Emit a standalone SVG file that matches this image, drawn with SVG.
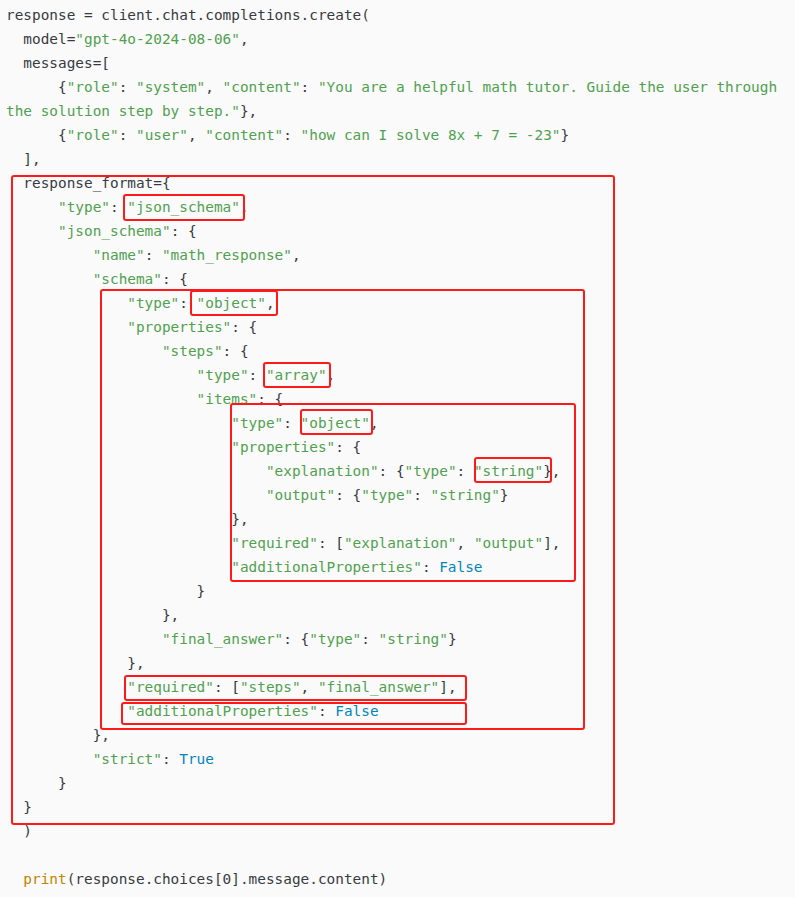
<svg xmlns="http://www.w3.org/2000/svg" width="795" height="897" viewBox="0 0 795 897">
<style>
text{font-family:"DejaVu Sans Mono","Liberation Mono",monospace;font-size:14.4px;fill:#383a42;white-space:pre}
.s{fill:#50a14f}.k{fill:#0184bc}.f{fill:#c18401}
.b{fill:none;stroke:#ff1a1a;stroke-width:2}
</style>
<rect width="795" height="897" fill="#fafafa"/>
<g id="code" xml:space="preserve">
<text x="6" y="20">response = client.chat.completions.create(</text>
<text x="6" y="44">  model=<tspan class="s">"gpt-4o-2024-08-06"</tspan>,</text>
<text x="6" y="68">  messages=[</text>
<text x="6" y="92">      {<tspan class="s">"role"</tspan>: <tspan class="s">"system"</tspan>, <tspan class="s">"content"</tspan>: <tspan class="s">"You are a helpful math tutor. Guide the user through</tspan></text>
<text x="6" y="116"><tspan class="s">the solution step by step."</tspan>},</text>
<text x="6" y="140">      {<tspan class="s">"role"</tspan>: <tspan class="s">"user"</tspan>, <tspan class="s">"content"</tspan>: <tspan class="s">"how can I solve 8x + 7 = -23"</tspan>}</text>
<text x="6" y="164">  ],</text>
<text x="6" y="188">  response_format={</text>
<text x="6" y="212">      <tspan class="s">"type"</tspan>: <tspan class="s">"json_schema"</tspan>,</text>
<text x="6" y="236">      <tspan class="s">"json_schema"</tspan>: {</text>
<text x="6" y="260">          <tspan class="s">"name"</tspan>: <tspan class="s">"math_response"</tspan>,</text>
<text x="6" y="284">          <tspan class="s">"schema"</tspan>: {</text>
<text x="6" y="308">              <tspan class="s">"type"</tspan>: <tspan class="s">"object"</tspan>,</text>
<text x="6" y="332">              <tspan class="s">"properties"</tspan>: {</text>
<text x="6" y="356">                  <tspan class="s">"steps"</tspan>: {</text>
<text x="6" y="380">                      <tspan class="s">"type"</tspan>: <tspan class="s">"array"</tspan>,</text>
<text x="6" y="404">                      <tspan class="s">"items"</tspan>: {</text>
<text x="6" y="428">                          <tspan class="s">"type"</tspan>: <tspan class="s">"object"</tspan>,</text>
<text x="6" y="452">                          <tspan class="s">"properties"</tspan>: {</text>
<text x="6" y="476">                              <tspan class="s">"explanation"</tspan>: {<tspan class="s">"type"</tspan>: <tspan class="s">"string"</tspan>},</text>
<text x="6" y="500">                              <tspan class="s">"output"</tspan>: {<tspan class="s">"type"</tspan>: <tspan class="s">"string"</tspan>}</text>
<text x="6" y="524">                          },</text>
<text x="6" y="548">                          <tspan class="s">"required"</tspan>: [<tspan class="s">"explanation"</tspan>, <tspan class="s">"output"</tspan>],</text>
<text x="6" y="572">                          <tspan class="s">"additionalProperties"</tspan>: <tspan class="k">False</tspan></text>
<text x="6" y="596">                      }</text>
<text x="6" y="620">                  },</text>
<text x="6" y="644">                  <tspan class="s">"final_answer"</tspan>: {<tspan class="s">"type"</tspan>: <tspan class="s">"string"</tspan>}</text>
<text x="6" y="668">              },</text>
<text x="6" y="692">              <tspan class="s">"required"</tspan>: [<tspan class="s">"steps"</tspan>, <tspan class="s">"final_answer"</tspan>],</text>
<text x="6" y="716">              <tspan class="s">"additionalProperties"</tspan>: <tspan class="k">False</tspan></text>
<text x="6" y="740">          },</text>
<text x="6" y="764">          <tspan class="s">"strict"</tspan>: <tspan class="k">True</tspan></text>
<text x="6" y="788">      }</text>
<text x="6" y="812">  }</text>
<text x="6" y="836">  )</text>
<text x="6" y="884">  <tspan class="f">print</tspan>(response.choices[0].message.content)</text>
</g>
<g id="highlights">
<rect class="b" x="12" y="176" width="602" height="648" rx="2"/>
<rect class="b" x="124" y="195" width="120" height="25" rx="2"/>
<rect class="b" x="101" y="290" width="483" height="439" rx="2"/>
<rect class="b" x="191" y="291" width="86" height="24" rx="2"/>
<rect class="b" x="264" y="363" width="66" height="24" rx="2"/>
<rect class="b" x="231" y="404" width="344" height="177" rx="2"/>
<rect class="b" x="301" y="410" width="71" height="24" rx="2"/>
<rect class="b" x="475" y="458" width="76" height="24" rx="2"/>
<rect class="b" x="125" y="676" width="341" height="24" rx="2"/>
<rect class="b" x="122" y="703" width="344" height="21" rx="2"/>
</g>
</svg>
